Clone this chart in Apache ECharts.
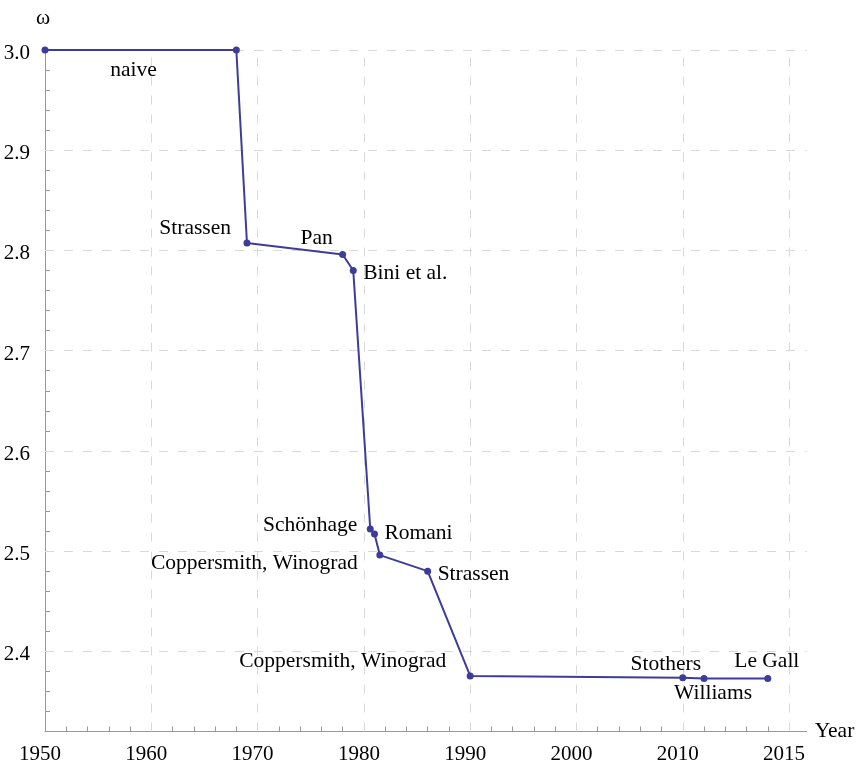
<!DOCTYPE html>
<html>
<head>
<meta charset="utf-8">
<script src="https://cdn.jsdelivr.net/npm/echarts@6/dist/echarts.min.js"></script>
<style>
html,body{margin:0;padding:0;background:#fff;}
#chart{width:858px;height:768px;}
</style>
</head>
<body>
<div id="chart"></div>
<script>
// ---- data ----
var years = [1950, 1968, 1969, 1978, 1979, 1980.6, 1981.0, 1981.5, 1986, 1990, 2010, 2011, 2014];
var omega = [3.0, 3.0, 2.8074, 2.796, 2.780, 2.522, 2.517, 2.496, 2.480, 2.3755, 2.3737, 2.3729, 2.3729];
var names = ['naive', '', 'Strassen', 'Pan', 'Bini et al.', 'Schönhage', 'Romani',
             'Coppersmith, Winograd', 'Strassen', 'Coppersmith, Winograd',
             'Stothers', 'Williams', 'Le Gall'];
var xTickYears = [1950, 1960, 1970, 1980, 1990, 2000, 2010, 2015];
var xTickLabels = ['1950', '1960', '1970', '1980', '1990', '2000', '2010', '2015'];
var yTickValues = [2.4, 2.5, 2.6, 2.7, 2.8, 2.9, 3.0];
var yTickLabels = ['2.4', '2.5', '2.6', '2.7', '2.8', '2.9', '3.0'];

// label placement (style/position, kept separate from data)
var labelPlace = [
  {align: 'center', dx: 88.5, dy: 20},
  null,
  {align: 'right', dx: -16, dy: -15},
  {align: 'center', dx: -26, dy: -16.4},
  {align: 'left', dx: 10, dy: 2.5},
  {align: 'right', dx: -13, dy: -3.5},
  {align: 'left', dx: 10, dy: -0.9},
  {align: 'right', dx: -22, dy: 8.4},
  {align: 'left', dx: 10, dy: 3.4},
  {align: 'right', dx: -24, dy: -14.6},
  {align: 'center', dx: -17, dy: -13.7},
  {align: 'center', dx: 9, dy: 14.5},
  {align: 'center', dx: -1, dy: -17.5}
];

// x axis is stretched after 2010 (one year = two units)
function toT(y) { return y <= 2010 ? y : 2010 + 2 * (y - 2010); }

var FONT = 'Liberation Serif';
var LINE = '#3d3d99';
var AXIS = '#999999';

var xTickT = xTickYears.map(toT);
var xMinor = [];
for (var t = 1950; t <= 2020; t += 2) xMinor.push(t);
var yMinor = [];
for (var k = 0; k <= 34; k++) yMinor.push(Math.round((2.32 + k * 0.02) * 100) / 100);

var seriesData = years.map(function (y, i) {
  var item = {value: [toT(y), omega[i]]};
  var p = labelPlace[i];
  if (p && names[i]) {
    item.label = {
      show: true,
      formatter: names[i],
      position: 'inside',
      align: p.align,
      verticalAlign: 'middle',
      fontFamily: FONT,
      fontSize: 21.5,
      color: '#000'
    };
  }
  return item;
});

var gridStyle = {type: [9, 10], color: '#d9d9d9', width: 1};
var gridLines = [];
xTickYears.slice(1).forEach(function (y) { gridLines.push({xAxis: toT(y)}); });
yTickValues.forEach(function (v) { gridLines.push({yAxis: v}); });

var chart = echarts.init(document.getElementById('chart'));
chart.setOption({
  animation: false,
  backgroundColor: '#fff',
  grid: {left: 45, right: 51.3, top: 48, bottom: 36.5, containLabel: false},
  xAxis: {
    type: 'value',
    min: 1950,
    max: 2021.66,
    name: 'Year',
    nameLocation: 'end',
    nameGap: 8,
    nameTextStyle: {fontFamily: FONT, fontSize: 21.5, color: '#000', align: 'left',
                    verticalAlign: 'middle', padding: [0, 0, 22, 0]},
    axisLine: {show: true, lineStyle: {color: AXIS, width: 1}},
    axisTick: {show: true, inside: true, length: 5, lineStyle: {color: AXIS}, customValues: xMinor},
    axisLabel: {
      customValues: xTickT,
      margin: 12,
      padding: [0, 10, 0, 0],
      fontFamily: FONT, fontSize: 21, color: '#000',
      formatter: function (v) {
        var i = xTickT.indexOf(v);
        return i >= 0 ? xTickLabels[i] : '';
      }
    },
    splitLine: {show: false}
  },
  yAxis: {
    type: 'value',
    min: 2.32,
    max: 3.002,
    name: 'ω',
    nameLocation: 'end',
    nameGap: 19,
    nameTextStyle: {fontFamily: FONT, fontSize: 21.5, color: '#000', align: 'center', padding: [0, 4, 0, 0]},
    axisLine: {show: true, lineStyle: {color: AXIS, width: 1}},
    axisTick: {show: true, inside: true, length: 5, lineStyle: {color: AXIS}, customValues: yMinor},
    axisLabel: {
      customValues: yTickValues,
      margin: 15,
      verticalAlign: 'top',
      lineHeight: 7,
      fontFamily: FONT, fontSize: 21, color: '#000',
      formatter: function (v) {
        for (var i = 0; i < yTickValues.length; i++) {
          if (Math.abs(yTickValues[i] - v) < 1e-6) return yTickLabels[i];
        }
        return '';
      }
    },
    splitLine: {show: false}
  },
  series: [
    {
      type: 'line',
      z: 1,
      data: [],
      silent: true,
      markLine: {
        silent: true,
        z: 1,
        symbol: ['none', 'none'],
        label: {show: false},
        lineStyle: gridStyle,
        data: gridLines,
        animation: false
      }
    },
    {
      type: 'line',
      z: 3,
      data: seriesData,
      clip: false,
      symbol: 'circle',
      symbolSize: 7,
      showSymbol: true,
      itemStyle: {color: LINE},
      lineStyle: {color: LINE, width: 2},
      labelLayout: function (params) {
        var p = labelPlace[params.dataIndex];
        if (!p) return {};
        return {dx: p.dx, dy: p.dy, hideOverlap: false};
      }
    }
  ]
});
</script>
</body>
</html>
